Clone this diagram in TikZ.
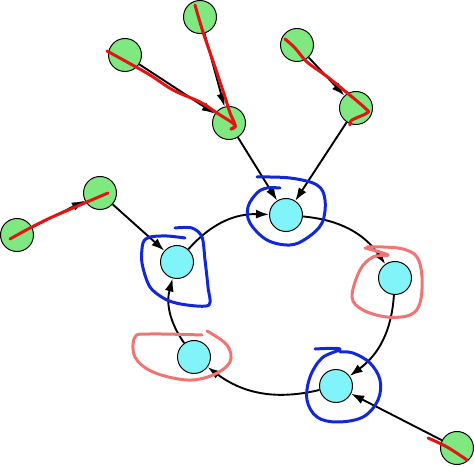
\documentclass[tikz,border=0pt]{standalone}
\usepackage{tikz}
\usetikzlibrary{arrows.meta}

\definecolor{leafgreen}{RGB}{128,232,128}
\definecolor{ringcyan}{RGB}{128,244,248}
\definecolor{penred}{RGB}{226,20,20}
\definecolor{penblue}{RGB}{18,40,216}
\definecolor{penpink}{RGB}{240,116,116}

\begin{document}
\begin{tikzpicture}[x=1pt, y=1pt,
	leaf/.style={circle, draw, fill=leafgreen, minimum size=33pt, inner sep=0pt, line width=1pt},
	ring/.style={circle, draw, fill=ringcyan, minimum size=33pt, inner sep=0pt, line width=1pt},
	edge/.style={line width=1.9pt, -{Latex[length=13pt, width=9pt]}},
	redpen/.style={penred, line width=3pt, line cap=round, line join=round},
	bluepen/.style={penblue, line width=3pt, line cap=round, line join=round},
	pinkpen/.style={penpink, line width=3pt, line cap=round, line join=round}]
	\useasboundingbox (0,0) rectangle (474,466);
	% outer tree
	\node[leaf] (g1) at (125,411) {};
	\node[leaf] (g2) at (200,449) {};
	\node[leaf] (g3) at (229,343) {};
	\node[leaf] (g4) at (297,421) {};
	\node[leaf] (g5) at (356,358) {};
	\node[leaf] (g6) at (100,273) {};
	\node[leaf] (g7) at (17,231) {};
	\node[leaf] (g8) at (457,18) {};
	% the cycle
	\node[ring] (c1) at (286,251) {};
	\node[ring] (c2) at (395,188) {};
	\node[ring] (c3) at (336,80) {};
	\node[ring] (c4) at (194,109) {};
	\node[ring] (c5) at (177,204) {};
	\draw[edge] (g1) -- (g3);
	\draw[edge] (g2) -- (g3);
	\draw[edge] (g4) -- (g5);
	\draw[edge] (g3) -- (c1);
	\draw[edge] (g5) -- (c1);
	\draw[edge] (g7) -- (g6);
	\draw[edge] (g6) -- (c5);
	\draw[edge] (g8) -- (c3);
	\draw[edge] (c5) to[bend left=25] (c1);
	\draw[edge] (c1) to[bend left=25] (c2);
	\draw[edge] (c2) to[bend left=25] (c3);
	\draw[edge] (c3) to[bend left=25] (c4);
	\draw[edge] (c4) to[bend left=25] (c5);
	% pen marks
	\draw[redpen] plot[smooth, tension=0.6] coordinates {(107,415) (127,404) (150,391) (173,376) (200,364) (217,353) (235,341) (231,337)};
	\draw[redpen] plot[smooth, tension=0.6] coordinates {(195,461) (203,434) (215,399) (225,369) (230,353) (235,341) (231,337)};
	\draw[redpen] plot[smooth, tension=0.6] coordinates {(285,427) (295,418) (307,404) (325,391) (340,379) (365,358) (367,353) (352,346) (350,341)};
	\draw[redpen] plot[smooth, tension=0.6] coordinates {(10,227) (30,238) (50,248) (80,261) (108,273)};
	\draw[redpen] plot[smooth, tension=0.6] coordinates {(428,28) (447,19) (467,6)};
	\draw[bluepen] plot[smooth, tension=0.6] coordinates {(257,289) (290,288) (317,281) (325,266) (322,243) (307,228) (290,221) (267,226) (250,243) (248,259) (257,273) (267,278) (280,278)};
	\draw[bluepen] plot[smooth, tension=0.5] coordinates {(175,238) (192,238) (202,229) (205,206) (208,179) (209,161) (187,161) (167,166) (150,179) (142,203) (143,223) (150,229) (167,230) (185,228)};
	\draw[bluepen] plot[smooth, tension=0.6] coordinates {(315,117) (340,117) (322,108) (310,89) (307,66) (317,49) (337,44) (363,49) (378,66) (380,86) (370,103) (353,113) (340,114)};
	\draw[pinkpen] plot[smooth, tension=0.6] coordinates {(365,218) (388,211) (373,209) (360,196) (352,169) (363,156) (387,149) (410,151) (420,163) (422,189) (417,209) (403,217) (383,219) (367,219)};
	\draw[pinkpen] plot[smooth, tension=0.6] coordinates {(207,135) (227,121) (230,104) (213,91) (187,86) (153,94) (135,109) (135,129) (150,132) (202,131)};
\end{tikzpicture}
\end{document}
